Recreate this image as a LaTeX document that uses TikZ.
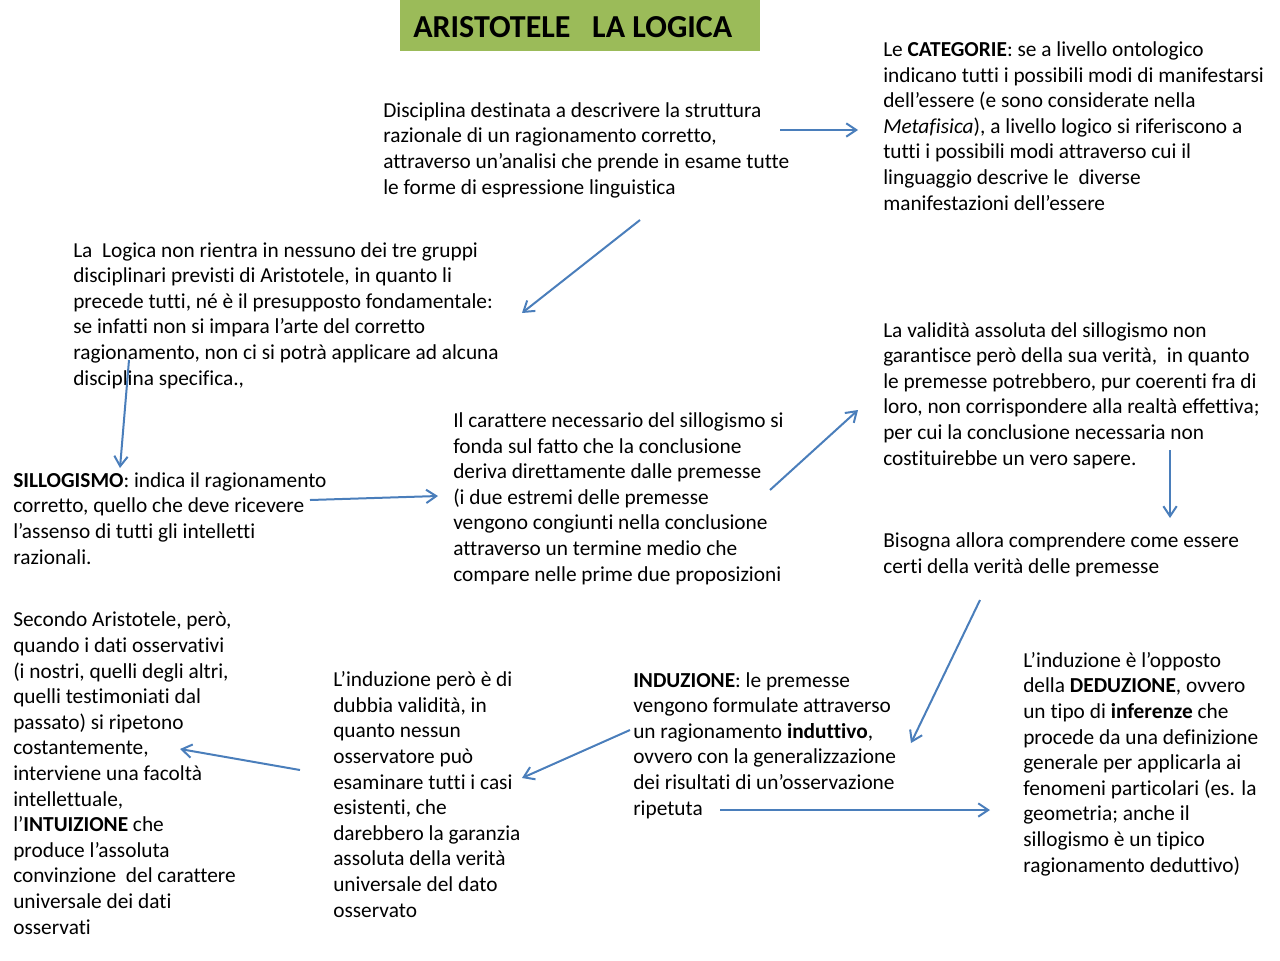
\documentclass[tikz,border=0pt]{standalone}
\usepackage{fontspec}
\setmainfont{Carlito}[Ligatures=NoCommon]
\usetikzlibrary{arrows.meta}
\definecolor{titlegreen}{HTML}{9BBB59}
\definecolor{arrowblue}{HTML}{4A7EBB}

\begin{document}
\begin{tikzpicture}[x=0.75pt,y=-0.75pt,
  text node/.style={anchor=base west,align=left,inner sep=0pt,font=\fontsize{16}{19.2}\selectfont},
  arrow line/.style={draw=arrowblue,line width=1.5pt,-{Straight Barb[length=7.5pt,width=10pt]}}]
  \useasboundingbox (0,0) rectangle (1280,960);

  % title
  \node[fill=titlegreen,minimum width=270pt,minimum height=38.25pt,anchor=north west,inner sep=0pt] (0) at (400,0) {};
  \node[anchor=base west,inner sep=0pt,font=\bfseries\fontsize{24}{28}\selectfont] (t) at (413,37) {ARISTOTELE\ \ \ LA LOGICA};

  % text blocks (placed by the baseline of their last line)
  \node[text node] (1) at (383,194) {Disciplina destinata a descrivere la struttura\\razionale di un ragionamento corretto,\\attraverso un’analisi che prende in esame tutte\\le forme di espressione linguistica};
  \node[text node] (2) at (883,210) {Le \textbf{CATEGORIE}: se a livello ontologico\\indicano tutti i possibili modi di manifestarsi\\dell’essere (e sono considerate nella\\\textit{Metafisica}), a livello logico si riferiscono a\\tutti i possibili modi attraverso cui il\\linguaggio descrive le\ \ diverse\\manifestazioni dell’essere};
  \node[text node] (3) at (73,385) {La\ \ Logica non rientra in nessuno dei tre gruppi\\disciplinari previsti di Aristotele, in quanto li\\precede tutti, né è il presupposto fondamentale:\\se infatti non si impara l’arte del corretto\\ragionamento, non ci si potrà applicare ad alcuna\\disciplina specifica.,};
  \node[text node] (4) at (13,564) {\textbf{SILLOGISMO}: indica il ragionamento\\corretto, quello che deve ricevere\\l’assenso di tutti gli intelletti\\razionali.};
  \node[text node] (5) at (453,581) {Il carattere necessario del sillogismo si\\fonda sul fatto che la conclusione\\deriva direttamente dalle premesse\\(i due estremi delle premesse\\vengono congiunti nella conclusione\\attraverso un termine medio che\\compare nelle prime due proposizioni};
  \node[text node] (6) at (883,465) {La validità assoluta del sillogismo non\\garantisce però della sua verità,\ \ in quanto\\le premesse potrebbero, pur coerenti fra di\\loro, non corrispondere alla realtà effettiva;\\per cui la conclusione necessaria non\\costituirebbe un vero sapere.};
  \node[text node] (7) at (883,573) {Bisogna allora comprendere come essere\\certi della verità delle premesse};
  \node[text node] (8) at (13,934) {Secondo Aristotele, però,\\quando i dati osservativi\\(i nostri, quelli degli altri,\\quelli testimoniati dal\\passato) si ripetono\\costantemente,\\interviene una facoltà\\intellettuale,\\l’\textbf{INTUIZIONE} che\\produce l’assoluta\\convinzione\ \ del carattere\\universale dei dati\\osservati};
  \node[text node] (9) at (333,917) {L’induzione però è di\\dubbia validità, in\\quanto nessun\\osservatore può\\esaminare tutti i casi\\esistenti, che\\darebbero la garanzia\\assoluta della verità\\universale del dato\\osservato};
  \node[text node] (10) at (633,815) {\textbf{INDUZIONE}: le premesse\\vengono formulate attraverso\\un ragionamento \textbf{induttivo},\\ovvero con la generalizzazione\\dei risultati di un’osservazione\\ripetuta};
  \node[text node] (11) at (1023,872) {L’induzione è l’opposto\\della \textbf{DEDUZIONE}, ovvero\\un tipo di \textbf{inferenze} che\\procede da una definizione\\generale per applicarla ai\\fenomeni particolari (es. la\\geometria; anche il\\sillogismo è un tipico\\ragionamento deduttivo)};

  % arrows
  \coordinate (a1) at (780,130);  \coordinate (b1) at (858,130);
  \coordinate (a2) at (640,220);  \coordinate (b2) at (522,313);
  \coordinate (a3) at (129,360);  \coordinate (b3) at (120,468);
  \coordinate (a4) at (310,500);  \coordinate (b4) at (438,496);
  \coordinate (a5) at (770,490);  \coordinate (b5) at (858,410);
  \coordinate (a6) at (1170,450); \coordinate (b6) at (1170,518);
  \coordinate (a7) at (980,600);  \coordinate (b7) at (911,743);
  \coordinate (a8) at (630,730);  \coordinate (b8) at (522,778);
  \coordinate (a9) at (300,770);  \coordinate (b9) at (180,749);
  \coordinate (a10) at (720,810); \coordinate (b10) at (990,810);

  \draw[arrow line] (a1) -- (b1);
  \draw[arrow line] (a2) -- (b2);
  \draw[arrow line] (a3) -- (b3);
  \draw[arrow line] (a4) -- (b4);
  \draw[arrow line] (a5) -- (b5);
  \draw[arrow line] (a6) -- (b6);
  \draw[arrow line] (a7) -- (b7);
  \draw[arrow line] (a8) -- (b8);
  \draw[arrow line] (a9) -- (b9);
  \draw[arrow line] (a10) -- (b10);
\end{tikzpicture}
\end{document}
